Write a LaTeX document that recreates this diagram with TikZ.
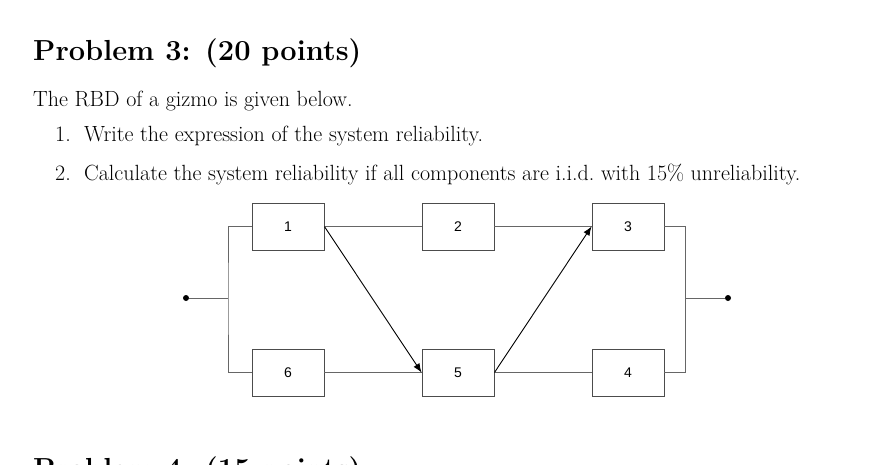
\documentclass[tikz,border=0pt]{standalone}
\usepackage{fontspec}
\newfontfamily\boxfont{Liberation Sans}
\usetikzlibrary{arrows.meta}
\begin{document}
\begin{tikzpicture}[x=1pt,y=-1pt,
  txt/.style={anchor=base west,inner sep=0pt,font=\fontsize{22}{26}\selectfont},
  ttl/.style={anchor=base west,inner sep=0pt,font=\fontsize{29}{33}\selectfont\bfseries},
  blk/.style={draw=black!70,line width=0.9pt,minimum width=72pt,minimum height=47pt,inner sep=0pt,font=\boxfont\fontsize{14}{16}\selectfont},
  wire/.style={draw=black!60,line width=0.9pt},
  arr/.style={draw=black,line width=0.9pt,-{Latex[length=9pt,width=7pt]}},
  dot/.style={circle,fill=black,inner sep=0pt,minimum size=6pt}]
\useasboundingbox (0,0) rectangle (882,464);
\node[ttl] (t1) at (33,60) {Problem 3: (20 points)};
\node[txt] (l1) at (33,106) {The RBD of a gizmo is given below.};
\node[txt] (n1) at (55,141) {1.};
\node[txt] (i1) at (84,141) {Write the expression of the system reliability.};
\node[txt] (n2) at (55,180) {2.};
\node[txt] (i2) at (84,180) {Calculate the system reliability if all components are i.i.d.\ with 15\% unreliability.};
\node[ttl] (t2) at (33,478) {Problem 4: (15 points)};
\node[blk] (b1) at (288,226.5) {1};
\node[blk] (b2) at (458,226.5) {2};
\node[blk] (b3) at (628,226.5) {3};
\node[blk] (b6) at (288,372.5) {6};
\node[blk] (b5) at (458,372.5) {5};
\node[blk] (b4) at (628,372.5) {4};
\node[dot] (s) at (186,298) {};
\node[dot] (e) at (728,298) {};
\coordinate (jl) at (228,298);
\coordinate (jr) at (685,298);
\draw[wire] (s) -- (jl);
\draw[wire] (b1.west) -| (jl) |- (b6.west);
\draw[wire] (b3.east) -| (jr) |- (b4.east);
\draw[wire] (jr) -- (e);
\draw[wire] (b1.east) -- (b2.west);
\draw[wire] (b2.east) -- (b3.west);
\draw[wire] (b6.east) -- (b5.west);
\draw[wire] (b5.east) -- (b4.west);
\draw[arr] (b1.east) -- (b5.west);
\draw[arr] (b5.east) -- (b3.west);
\end{tikzpicture}
\end{document}
